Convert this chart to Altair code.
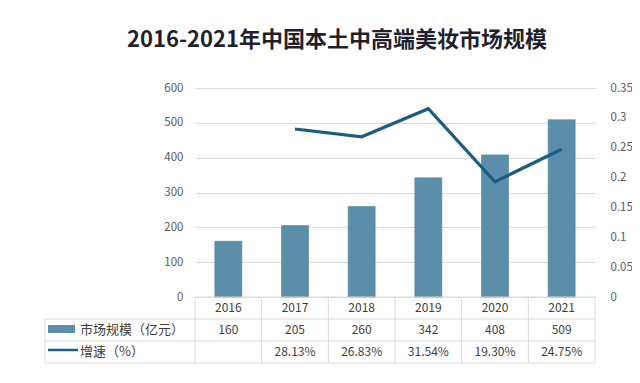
import altair as alt
import pandas as pd

years = ["2016", "2017", "2018", "2019", "2020", "2021"]
market = [160, 205, 260, 342, 408, 509]
growth = [None, 0.2813, 0.2683, 0.3154, 0.1930, 0.2475]
left_ticks = [0, 100, 200, 300, 400, 500, 600]
right_ticks = [0, 0.05, 0.1, 0.15, 0.2, 0.25, 0.3, 0.35]
legend_labels = ["市场规模（亿元）", "增速（%）"]
title_text = "2016-2021年中国本土中高端美妆市场规模"

df = pd.DataFrame({"year": years, "market": market, "growth": growth})
gdf = df.dropna().reset_index(drop=True)
one = pd.DataFrame({"k": [0]})

FONT = "Noto Sans CJK SC"
BAR = "#5b8fa9"
LINE = "#1b5c87"
GRID = "#d9d9d9"
TXT = "#404040"
W, H = 400, 209
ROW1, ROW2, ROW3 = 220, 242, 264
ROW_LINES = [231, 253, 275]
LEFT_EDGE = -150


def xenc(**kw):
    return alt.X("year:O", scale=alt.Scale(domain=years, paddingInner=0, paddingOuter=0),
                 axis=None, **kw)


bars = alt.Chart(df).mark_bar(width=27, color=BAR, stroke="#4f8199", strokeWidth=0.6).encode(
    x=xenc(),
    y=alt.Y("market:Q", scale=alt.Scale(domain=[0, 600]),
            axis=alt.Axis(values=left_ticks, grid=True, gridColor=GRID, domain=False,
                          ticks=False, labelPadding=12, labelColor="#595959",
                          labelFontSize=11.5, labelFont=FONT, title=None, format="d")),
)

line = alt.Chart(gdf).mark_line(color=LINE, strokeWidth=3.2).encode(
    x=xenc(),
    y=alt.Y("growth:Q", scale=alt.Scale(domain=[0, 0.35]),
            axis=alt.Axis(orient="right", values=right_ticks, grid=False, domain=False,
                          ticks=False, labelPadding=15, labelColor="#595959",
                          labelFontSize=11.5, labelFont=FONT, title=None, format="~g")),
)

year_text = alt.Chart(df).mark_text(font=FONT, fontSize=12, color=TXT).encode(
    x=xenc(), y=alt.value(ROW1), text="year:N")
market_text = alt.Chart(df).mark_text(font=FONT, fontSize=12, color=TXT).encode(
    x=xenc(), y=alt.value(ROW2), text=alt.Text("market:Q", format="d"))
growth_text = alt.Chart(gdf).mark_text(font=FONT, fontSize=12, color=TXT).encode(
    x=xenc(), y=alt.value(ROW3), text=alt.Text("growth:Q", format=".2%"))

vrules = alt.Chart(df).mark_rule(color=GRID, strokeWidth=1).encode(
    x=xenc(bandPosition=0), y=alt.value(H), y2=alt.value(ROW_LINES[-1]))
vlast = alt.Chart(one).mark_rule(color=GRID).encode(
    x=alt.value(W), y=alt.value(H), y2=alt.value(ROW_LINES[-1]))
vleft = alt.Chart(one).mark_rule(color=GRID).encode(
    x=alt.value(LEFT_EDGE), y=alt.value(ROW_LINES[0]), y2=alt.value(ROW_LINES[-1]))
haxis = alt.Chart(one).mark_rule(color=GRID).encode(
    x=alt.value(0), x2=alt.value(W), y=alt.value(H))
hrules = [alt.Chart(one).mark_rule(color=GRID).encode(
    x=alt.value(LEFT_EDGE), x2=alt.value(W), y=alt.value(yy)) for yy in ROW_LINES]

sw_bar = alt.Chart(one).mark_rect(color=BAR).encode(
    x=alt.value(-147), x2=alt.value(-120), y=alt.value(237), y2=alt.value(245))
sw_line = alt.Chart(one).mark_rule(color=LINE, strokeWidth=2.5).encode(
    x=alt.value(-147), x2=alt.value(-117), y=alt.value(ROW3 - 2))
lab1 = alt.Chart(one).mark_text(font=FONT, fontSize=13, color=TXT, align="left").encode(
    x=alt.value(-115), y=alt.value(ROW2), text=alt.value(legend_labels[0]))
lab2 = alt.Chart(one).mark_text(font=FONT, fontSize=13, color=TXT, align="left").encode(
    x=alt.value(-115), y=alt.value(ROW3), text=alt.value(legend_labels[1]))

chart = alt.layer(
    bars, line, vrules, vlast, vleft, haxis, *hrules,
    year_text, market_text, growth_text, sw_bar, sw_line, lab1, lab2,
).resolve_scale(y="independent").properties(
    width=W, height=H,
    autosize=alt.AutoSizeParams(type="none"),
    padding={"left": 187, "top": 80, "right": 37, "bottom": 78},
    background="white",
    title=alt.Title(title_text, font=FONT, fontSize=22, fontWeight="bold",
                    color="#1f1f2e", anchor="middle", dx=-58, offset=30),
).configure_view(stroke=None)

chart.save("out.html", embed_options={"renderer": "svg", "actions": False})
